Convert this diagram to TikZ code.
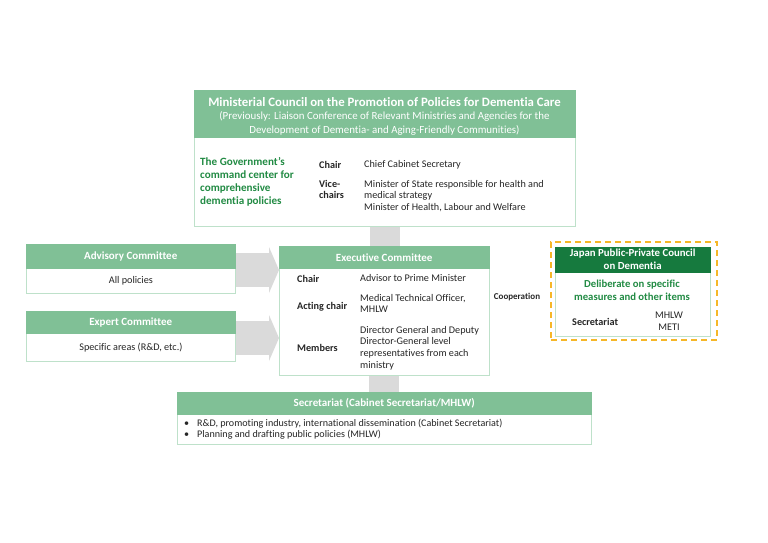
\documentclass[tikz,border=0pt]{standalone}
\usepackage{fontspec}
\setmainfont{Carlito}[Ligatures=NoCommon]
\usetikzlibrary{arrows.meta,backgrounds}
\definecolor{hgreen}{RGB}{128,192,150}
\definecolor{dgreen}{RGB}{22,122,62}
\definecolor{tgreen}{RGB}{34,139,68}
\definecolor{lgreen}{RGB}{190,225,202}
\definecolor{gbar}{RGB}{218,218,218}
\definecolor{dashorange}{RGB}{246,183,40}
\definecolor{txtgray}{RGB}{38,38,38}

\begin{document}
\begin{tikzpicture}
[
x=1pt, y=-1pt,
every node/.style={inner sep=0pt, text=txtgray, font=\fontsize{10.2}{11.8}\selectfont},
head/.style={anchor=north west, fill=hgreen, draw=hgreen, text=white, font=\fontsize{11}{13}\selectfont\bfseries, align=center},
box/.style={anchor=north west, fill=white, draw=lgreen, line width=0.8pt},
lbl/.style={anchor=west, align=left, font=\fontsize{10.2}{11.5}\selectfont\bfseries},
txt/.style={anchor=west, align=left},
bar/.style={draw=gbar, line width=30pt},
fat/.style={draw=gbar, line width=34pt, -{Triangle[length=10pt, width=46pt, line width=0pt]}}
]
\useasboundingbox (0,0) rectangle (768,543);

% ministerial council
\node[box, minimum width=381pt, minimum height=89pt] (councilbody) at (194,137) {};
\node[head, minimum width=381pt, minimum height=47pt] (council) at (194,90) {};
\node[text=white, font=\fontsize{12.8}{13}\selectfont\bfseries] (counciltitle) at (384.5,102) {Ministerial Council on the Promotion of Policies for Dementia Care};
\node[text=white, align=center, font=\fontsize{10.9}{13.5}\selectfont] (councilsub) at (384.5,123.5) {(Previously: Liaison Conference of Relevant Ministries and Agencies for the\\Development of Dementia- and Aging-Friendly Communities)};
\node[anchor=west, align=left, text=tgreen, font=\fontsize{11.1}{13}\selectfont\bfseries] (command) at (200,181.5) {The Government’s\\command center for\\comprehensive\\dementia policies};
\node[lbl] (cchair) at (319,165) {Chair};
\node[lbl] (cvice) at (319,189.5) {Vice-\\chairs};
\node[txt] (cchairname) at (364,165) {Chief Cabinet Secretary};
\node[txt] (cvicename) at (364,196) {Minister of State responsible for health and\\medical strategy\\Minister of Health, Labour and Welfare};

% advisory and expert committees
\node[box, minimum width=209pt, minimum height=25pt] (advbody) at (26,268) {All policies};
\node[head, minimum width=209pt, minimum height=24pt] (adv) at (26,244) {Advisory Committee};
\node[box, minimum width=209pt, minimum height=28pt] (expertbody) at (26,333) {Specific areas (R\&D, etc.)};
\node[head, minimum width=209pt, minimum height=22pt] (expert) at (26,311) {Expert Committee};

% executive committee
\node[box, minimum width=210pt, minimum height=107pt] (execbody) at (279,268) {};
\node[head, minimum width=210pt, minimum height=22pt] (exec) at (279,246) {Executive Committee};
\node[lbl] (echair) at (297,279) {Chair};
\node[lbl] (eacting) at (297,307) {Acting chair};
\node[lbl] (emembers) at (297,348) {Members};
\node[txt] (echairname) at (360,278) {Advisor to Prime Minister};
\node[txt] (eactingname) at (360,303.5) {Medical Technical Officer,\\MHLW};
\node[txt] (emembersname) at (360,348) {Director General and Deputy\\Director-General level\\representatives from each\\ministry};

\node[font=\fontsize{9}{10}\selectfont\bfseries] (coop) at (517,297) {Cooperation};

% public-private council
\node[anchor=north west, draw=dashorange, line width=2pt, dash pattern=on 6pt off 4pt, minimum width=166pt, minimum height=98pt] (jpcframe) at (550,241) {};
\node[box, minimum width=155pt, minimum height=64pt] (jpcbody) at (555,272) {};
\node[head, fill=dgreen, draw=dgreen, minimum width=155pt, minimum height=25pt, font=\fontsize{10.8}{13}\selectfont\bfseries] (jpc) at (555,247) {Japan Public-Private Council\\on Dementia};
\node[align=center, text=tgreen, font=\fontsize{10.7}{13}\selectfont\bfseries] (deliberate) at (632,290.5) {Deliberate on specific\\measures and other items};
\node[lbl] (jsec) at (572,322) {Secretariat};
\node[align=center] (jsecname) at (669,321) {MHLW\\METI};

% secretariat
\node[box, minimum width=414pt, minimum height=30pt] (secbody) at (177,414) {};
\node[head, minimum width=414pt, minimum height=22pt] (sec) at (177,392) {Secretariat (Cabinet Secretariat/MHLW)};
\node[txt, font=\fontsize{10.1}{11}\selectfont] (secitem1) at (184,424) {\makebox[13pt][l]{\textbullet}R\&D, promoting industry, international dissemination (Cabinet Secretariat)};
\node[txt, font=\fontsize{10.1}{11}\selectfont] (secitem2) at (184,435) {\makebox[13pt][l]{\textbullet}Planning and drafting public policies (MHLW)};

\coordinate (advout) at ([yshift=-2pt]advbody.north east);
\coordinate (expertout) at ([yshift=-5pt]expertbody.north east);
\begin{scope}[on background layer]
\draw[bar] (councilbody.south) -- (councilbody.south |- exec.north);
\draw[bar] (execbody.south) -- (execbody.south |- sec.north);
\draw[fat] (advout) -- (advout -| execbody.west);
\draw[fat] (expertout) -- (expertout -| execbody.west);
\end{scope}
\end{tikzpicture}
\end{document}
